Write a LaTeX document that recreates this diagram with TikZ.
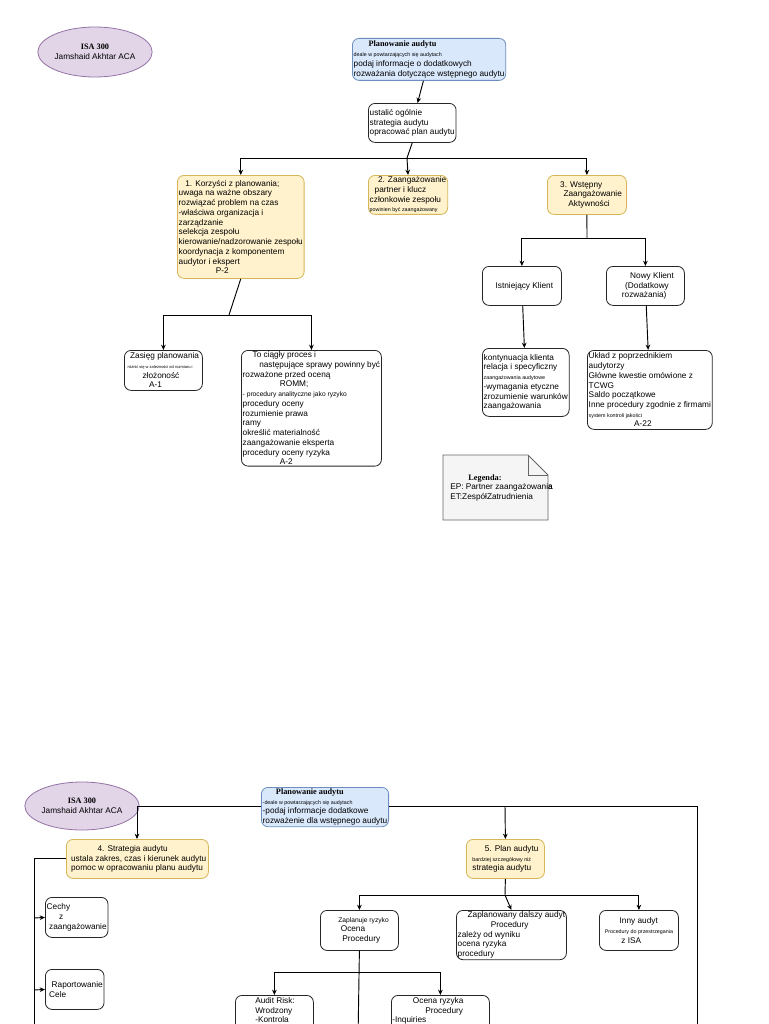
\documentclass[tikz,border=0pt]{standalone}
\usepackage{fontspec}
\setmainfont{Liberation Sans}
\newfontfamily\serifb{Liberation Serif}
\usetikzlibrary{arrows.meta,shapes.geometric}
\definecolor{bluef}{HTML}{DAE8FC}\definecolor{blues}{HTML}{6C8EBF}
\definecolor{yelf}{HTML}{FFF2CC}\definecolor{yels}{HTML}{D6B656}
\definecolor{purf}{HTML}{E1D5E7}\definecolor{purs}{HTML}{9673A6}
\definecolor{grayf}{HTML}{F5F5F5}\definecolor{grays}{HTML}{666666}
\newcommand\mn{\fontsize{6.2}{7.3}\selectfont}
\newcommand\sm{\fontsize{4}{5}\selectfont}
\newcommand\ttl{\serifb\bfseries\fontsize{6.2}{7.3}\selectfont}
\newcommand\bx[7]{\node[#1,anchor=north west,minimum width={(#5-#3)*0.75pt},minimum height={(#6-#4)*0.75pt}] (#2) at (#3,#4) {#7};}
\tikzset{
 box/.style={draw=black!85,line width=0.6pt,rounded corners=5pt,inner sep=1pt,font=\mn,align=left,fill=white},
 blue/.style={box,fill=bluef,draw=blues},
 yel/.style={box,fill=yelf,draw=yels},
 ell/.style={ellipse,draw=purs,fill=purf,line width=0.6pt,font=\mn,align=center,inner sep=0pt},
 ln/.style={line width=0.7pt,black},
 arr/.style={ln,-{Stealth[length=4pt,width=3.5pt]}}
}
\begin{document}
\begin{tikzpicture}[x=0.75pt,y=-0.75pt]
\useasboundingbox (0,0) rectangle (768,1024);
\clip (0,0) rectangle (768,1024);
\fill[white] (0,0) rectangle (768,1024);
% ---------- top page ----------
\node[ell,minimum width=73.5pt,minimum height=37.5pt] (isa1) at (95,52) {{\ttl ISA 300}\\Jamshaid Akhtar ACA};
\bx{blue}{plan1}{352}{38}{463}{80}{\hspace*{1.8em}{\ttl Planowanie audytu}\\{\sm deale w powtarzających się audytach}\\podaj informacje o dodatkowych\\rozważania dotyczące wstępnego audytu}
\bx{box}{ust}{368}{103}{447}{142}{ustalić ogólnie\\strategia audytu\\opracować plan audytu}
\bx{yel}{b1}{177}{175}{280}{278}{\hspace*{0.8em}1. Korzyści z planowania;\\uwaga na ważne obszary\\rozwiązać problem na czas\\-właściwa organizacja i\\zarządzanie\\selekcja zespołu\\kierowanie/nadzorowanie zespołu\\koordynacja z komponentem\\audytor i ekspert\\\hspace*{4.5em}P-2}
\bx{yel}{b2}{368}{175}{447}{213}{\hspace*{1em}2. Zaangażowanie\\\hspace*{0.6em}partner i klucz\\ członkowie zespołu\\{\sm powinien być zaangażowany}}
\bx{yel}{b3}{547}{175}{626}{214}{\hspace*{1em}3. Wstępny\\\hspace*{1.4em}Zaangażowanie\\\hspace*{2em}Aktywności}
\coordinate (j1) at (407,158);
\draw[arr] (plan1) -- (ust);
\draw[ln] (ust.south) -- (j1);
\draw[arr] (j1) -- (b2.north);
\draw[arr] (j1) -| (b1.north);
\draw[arr] (j1) -| (b3.north);
\bx{box}{zas}{124}{350}{202}{390}{\hspace*{0.3em}Zasięg planowania\\{\fontsize{3}{4}\selectfont różnić się w zależności od rozmiaru i}\\\hspace*{1.8em}złożoność\\\hspace*{2.6em}A-1}
\bx{box}{ciag}{241}{350}{358}{459}{\hspace*{1.2em}To ciągły proces i\\\hspace*{2em}następujące sprawy powinny być\\rozważone przed oceną\\\hspace*{4.5em}ROMM;\\{\fontsize{5}{6}\selectfont - procedury analityczne jako ryzyko}\\procedury oceny\\rozumienie prawa\\ramy\\określić materialność\\zaangażowanie eksperta\\procedury oceny ryzyka\\\hspace*{4.5em}A-2}
\coordinate (j2) at (229,315);
\draw[ln] (b1.south) -- (j2);
\draw[arr] (j2) -| (zas.north);
\draw[arr] (j2) -| (ciag.north);
\bx{box}{ist}{482}{266}{561}{305}{\hspace*{0.6em}Istniejący Klient}
\bx{box}{now}{606}{266}{684}{305}{\hspace*{1.6em}Nowy Klient\\\hspace*{1em}(Dodatkowy\\\hspace*{0.6em}rozważania)}
\coordinate (j3) at (587,238);
\draw[ln] (b3.south) -- (j3);
\draw[arr] (j3) -| (ist.north);
\draw[arr] (j3) -| (now.north);
\bx{box}{kont}{482}{348}{561}{416}{kontynuacja klienta\\relacja i specyficzny\\{\sm zaangażowania audytowe}\\-wymagania etyczne\\zrozumienie warunków\\zaangażowania}
\bx{box}{ukl}{587}{350}{704}{429}{Układ z poprzednikiem\\audytorzy\\Główne kwestie omówione z\\TCWG\\Saldo początkowe\\Inne procedury zgodnie z firmami\\{\sm system kontroli jakości}\\\hspace*{5.5em}A-22}
\draw[arr] (ist) -- (kont);
\draw[arr] (now) -- (ukl);
\node[font=\mn,align=left,anchor=north west,inner sep=0pt] (leg) at (450,474) {\hspace*{2.2em}{\ttl Legenda:}\\EP: Partner zaangażowania\\ET:ZespółZatrudnienia};
\draw[grays,fill=grayf,line width=0.6pt] (443,455) -- (528,455) -- (548,475) -- (548,520) -- (443,520) -- cycle;
\draw[grays,line width=0.6pt] (528,455) -- (528,475) -- (548,475);
\node[font=\mn,align=left,anchor=north west,inner sep=0pt] at (450,474) {\hspace*{2.2em}{\ttl Legenda:}\\EP: Partner zaangażowania\\ET:ZespółZatrudnienia};
% ---------- bottom page ----------
\node[ell,minimum width=73.5pt,minimum height=36pt] (isa2) at (82,806) {{\ttl ISA 300}\\Jamshaid Akhtar ACA};
\bx{blue}{plan2}{261}{787}{371}{826}{\hspace*{1.6em}{\ttl Planowanie audytu}\\{\sm -deale w powtarzających się audytach}\\-podaj informacje dodatkowe\\rozważenie dla wstępnego audytu}
\bx{yel}{b4}{66}{839}{208}{878}{\hspace*{3.5em}4. Strategia audytu\\\hspace*{0.3em}ustala zakres, czas i kierunek audytu\\\hspace*{0.3em}pomoc w opracowaniu planu audytu}
\bx{yel}{b5}{466}{839}{544}{878}{\hspace*{1.5em}5. Plan audytu\\{\sm bardziej szczegółowy niż}\\strategia audytu}
\coordinate (r1) at (697,806);
\coordinate (r2) at (697,1040);
\coordinate (l1) at (137,806);
\coordinate (t5) at (505,806);
\draw[ln] (plan2.east |- r1) -- (r1) -- (r2);
\draw[ln] (plan2.west |- l1) -- (l1);
\draw[arr] (l1) -- (b4.north -| l1);
\draw[arr] (t5) -- (b5.north);
\bx{box}{cech}{45}{897}{98}{937}{Cechy\\\hspace*{1.5em}z\\\hspace*{0.3em}zaangażowanie}
\bx{box}{rap}{45}{969}{98}{1009}{\hspace*{0.6em}Raportowanie\\\hspace*{0.3em}Cele}
\coordinate (k1) at (34,858);
\coordinate (k2) at (34,1040);
\draw[ln] (b4.west |- k1) -- (k1) -- (k2);
\draw[arr] (34,918) -- (cech.west);
\draw[arr] (34,990) -- (rap.west);
\bx{box}{zapr}{320}{910}{398}{950}{\hspace*{1em}{\fontsize{5}{7.3}\selectfont Zaplanuje ryzyko}\\\hspace*{1.3em}Ocena\\\hspace*{1.5em}Procedury}
\bx{box}{zapd}{456}{910}{554}{956}{\hspace*{1.2em}Zaplanowany dalszy audyt\\\hspace*{4em}Procedury\\zależy od wyniku\\ocena ryzyka\\procedury}
\bx{box}{inny}{599}{910}{678}{950}{\hspace*{1.8em}Inny audyt\\{\sm Procedury do przestrzegania}\\\hspace*{2em}z ISA}
\coordinate (j5) at (505,895);
\draw[ln] (b5.south) -- (j5);
\draw[arr] (j5) -- (zapd.north);
\draw[arr] (j5) -| (zapr.north);
\draw[arr] (j5) -| (inny.north);
\node[box,anchor=north west,minimum width={78*0.75pt},minimum height={60*0.75pt},anchor=north west] (risk) at (235,995) {};
\node[font=\mn,align=left,anchor=north west,inner sep=0pt] (riskt) at (255,997) {Audit Risk:\\Wrodzony\\-Kontrola};
\node[box,anchor=north west,minimum width={98*0.75pt},minimum height={60*0.75pt}] (ocr) at (391,995) {};
\node[font=\mn,align=left,anchor=north west,inner sep=0pt] (ocrt) at (392,997) {\hspace*{2.5em}Ocena ryzyka\\\hspace*{4em}Procedury\\-Inquiries};
\coordinate (j6) at (358,972);
\coordinate (zb) at (358,1040);
\draw[ln] (zapr.south) -- (zb);
\draw[arr] (j6) -| (risk.north);
\draw[arr] (j6) -| (ocr.north);
\end{tikzpicture}
\end{document}
